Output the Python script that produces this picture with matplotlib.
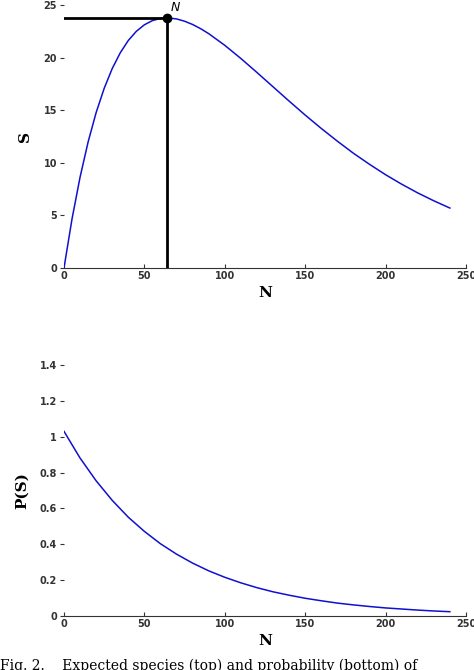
import matplotlib
matplotlib.use("Agg")
import matplotlib.pyplot as plt

N = [0,5,10,15,20,25,30,35,40,45,50,55,60,64,70,75,80,85,90,100,110,120,130,140,150,160,170,180,190,200,210,220,230,240]
S = [0,4.67,8.64,11.98,14.78,17.08,18.96,20.46,21.63,22.50,23.12,23.52,23.73,23.78,23.68,23.46,23.15,22.75,22.28,21.17,19.92,18.59,17.23,15.87,14.54,13.27,12.06,10.91,9.86,8.87,7.97,7.14,6.39,5.70]
NP = [0,10,20,30,40,50,60,70,80,90,100,110,120,130,140,150,160,170,180,190,200,210,220,230,240]
P = [1.03,0.881,0.754,0.645,0.551,0.472,0.403,0.345,0.295,0.252,0.216,0.185,0.158,0.135,0.116,0.099,0.085,0.072,0.062,0.053,0.045,0.039,0.033,0.028,0.024]
N_hat, S_hat = 64, 23.78

fig = plt.figure(figsize=(4.74, 6.70), dpi=100)

def style(ax):
    for s in ("top", "right", "left"):
        ax.spines[s].set_visible(False)
    ax.spines["bottom"].set_color("#333333")
    ax.tick_params(axis="x", direction="in", length=3, pad=2, labelsize=7, colors="#333333")
    ax.tick_params(axis="y", direction="out", length=3, pad=2, labelsize=7, colors="#333333")
    for lbl in ax.get_xticklabels() + ax.get_yticklabels():
        lbl.set_fontweight("bold")
    ax.set_xlim(0, 250)
    ax.set_xticks([0, 50, 100, 150, 200, 250])

ax1 = fig.add_axes([0.135, 0.6, 0.848, 0.3925])
ax1.plot(N, S, color="#1010d0", lw=1.1)
ax1.plot([0, N_hat], [S_hat, S_hat], color="black", lw=2)
ax1.plot([N_hat, N_hat], [0, S_hat], color="black", lw=2)
ax1.plot([N_hat], [S_hat], "o", color="black", ms=6)
ax1.text(N_hat + 2, S_hat + 0.3, r"$\hat{N}$", fontsize=9, family="serif", va="bottom")
ax1.set_ylim(0, 25)
ax1.set_yticks([0, 5, 10, 15, 20, 25])
style(ax1)
ax1.set_xlabel("N", family="serif", weight="bold", fontsize=11, labelpad=4)
ax1.set_ylabel("S", family="serif", weight="bold", fontsize=11, labelpad=8)

ax2 = fig.add_axes([0.135, 0.0806, 0.848, 0.3746])
ax2.plot(NP, P, color="#1010d0", lw=1.1)
ax2.set_ylim(0, 1.4)
ax2.set_yticks([0, 0.2, 0.4, 0.6, 0.8, 1, 1.2, 1.4])
ax2.set_yticklabels(["0", "0.2", "0.4", "0.6", "0.8", "1", "1.2", "1.4"])
style(ax2)
ax2.set_xlabel("N", family="serif", weight="bold", fontsize=11, labelpad=4)
ax2.set_ylabel("P(S)", family="serif", weight="bold", fontsize=11, labelpad=8)

fig.text(0.0, -0.005, "Fig. 2.    Expected species (top) and probability (bottom) of",
         family="serif", fontsize=10, va="bottom", ha="left")

fig.savefig("out.png", dpi=100)
